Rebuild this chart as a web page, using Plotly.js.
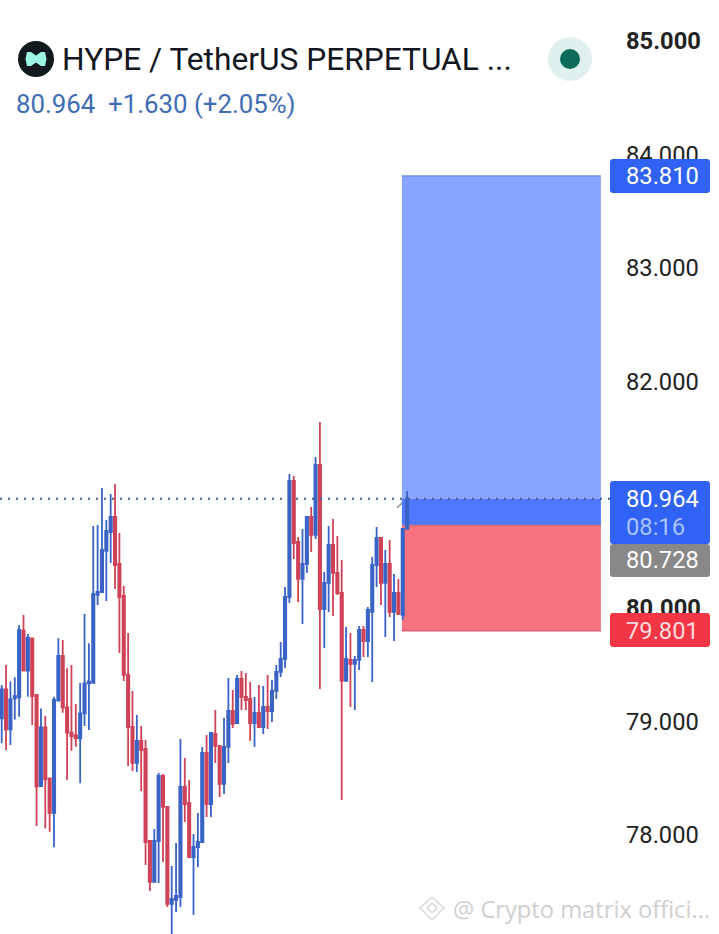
<!DOCTYPE html>
<html>
<head>
<meta charset="utf-8">
<script src="https://cdn.plot.ly/plotly-3.0.1.min.js"></script>
<style>html,body{margin:0;padding:0;background:#fff;overflow:hidden}#chart{width:719px;height:934px}</style>
</head>
<body>
<div id="chart"></div>
<script>
const open = [79.028,79.284,78.931,79.205,79.214,79.802,79.449,79.734,79.234,78.431,
78.949,78.499,78.196,79.184,79.578,79.125,78.902,78.881,78.852,79.072,
79.337,79.340,80.116,80.142,80.504,80.671,80.803,80.389,80.107,79.411,
78.952,78.635,78.829,78.758,77.947,77.586,77.947,78.520,78.247,77.392,
77.427,77.453,78.423,78.282,77.806,77.894,77.938,78.723,78.273,78.890,
78.785,78.450,78.776,79.093,78.987,79.375,79.217,79.199,78.987,79.076,
78.952,79.128,79.093,79.270,79.437,79.552,80.098,81.121,80.583,80.257,
80.389,80.803,80.645,81.262,79.992,80.222,80.557,80.310,80.133,79.358,
79.543,79.508,79.543,79.807,79.710,79.966,80.380,80.618,80.222,80.389,
79.966,80.133,79.940,80.698];
const high = [79.322,79.499,79.352,79.390,79.852,79.940,79.772,79.740,79.234,79.116,
79.049,78.499,79.219,79.734,79.719,79.469,79.499,79.155,79.343,79.949,
79.690,80.724,80.733,81.059,80.777,81.006,81.094,80.662,80.195,79.781,
79.270,79.058,78.961,78.838,77.956,78.053,78.547,78.538,78.247,77.727,
77.929,78.846,78.679,78.485,78.009,78.194,78.776,78.882,78.908,79.102,
78.793,79.031,79.384,79.278,79.411,79.446,79.428,79.349,79.217,79.322,
79.314,79.411,79.366,79.499,79.701,80.186,81.183,81.165,80.627,80.698,
80.803,80.892,81.332,81.641,80.319,80.724,80.786,80.636,80.424,79.834,
79.781,79.578,79.843,79.843,80.010,80.451,80.715,80.618,80.513,80.601,
80.301,80.257,80.706,81.033];
const low = [78.808,78.749,78.793,79.019,79.043,79.449,79.219,78.970,78.079,78.431,
78.058,78.029,77.891,79.184,79.078,78.484,78.743,78.778,78.455,78.961,
78.925,79.340,80.028,80.133,80.063,80.398,80.169,79.605,79.358,78.608,
78.564,78.555,78.388,77.736,77.506,77.586,77.577,77.762,77.365,77.127,
77.321,77.365,78.115,77.806,77.295,77.718,77.938,78.159,78.159,78.635,
78.335,78.361,78.635,78.943,78.987,79.102,79.102,78.829,78.776,78.952,
78.890,78.934,78.996,79.199,79.393,79.472,80.045,80.433,80.054,79.860,
80.310,80.495,80.610,79.287,79.649,79.966,79.931,80.116,78.309,79.358,
79.128,79.102,79.455,79.569,79.569,79.349,80.186,80.028,79.746,79.922,
79.710,79.948,79.895,80.698];
const close = [79.284,78.931,79.196,79.225,79.807,79.449,79.740,79.225,78.426,78.949,
78.490,78.196,79.190,79.578,79.125,78.902,78.872,78.852,79.072,79.337,
79.352,80.125,80.142,80.513,80.680,80.803,80.380,80.098,79.411,78.952,
78.635,78.829,78.749,77.938,77.586,77.947,78.520,78.247,77.392,77.436,
77.462,78.423,78.273,77.806,77.894,77.938,78.723,78.273,78.899,78.785,
78.450,78.776,79.093,78.979,79.375,79.217,79.190,78.987,79.076,78.952,
79.128,79.093,79.270,79.437,79.552,80.098,81.121,80.574,80.257,80.389,
80.803,80.645,81.262,79.992,80.222,80.557,80.310,80.133,79.358,79.552,
79.508,79.543,79.807,79.710,79.984,80.380,80.618,80.222,80.389,79.966,
80.133,79.948,80.698,80.964];
const tickValues = [85,84,83,82,81,80,79,78];
const tickLabels = ['<b>85.000</b>','84.000','83.000','82.000','81.000','<b>80.000</b>','79.000','78.000'];
const targetPrice = 83.810, lastPrice = 80.964, entryPrice = 80.728, stopPrice = 79.801;
const titleText = 'HYPE / TetherUS PERPETUAL ...';
const quoteText = '80.964&#160;&#160;+1.630 (+2.05%)';
const countdownText = '08:16';
const watermarkText = '@ Crypto matrix offici...';

const W = 719, H = 934, PLOTW = 612;
const yMin = 77.127, yMax = 85.361;
const PX = x => x / PLOTW;
const PY = y => 1 - y / H;
const BLUE = '#3a63c6', RED = '#cf4358', FONT = 'Roboto, sans-serif';
const boxStart = 91.8, boxEnd = 137.45;

function roundRect(x0,y0,x1,y1,r){
  const a=(x,y)=>PX(x).toFixed(5)+','+PY(y).toFixed(5);
  return 'M'+a(x0+r,y0)+' L'+a(x1-r,y0)+' Q'+a(x1,y0)+' '+a(x1,y0+r)+' L'+a(x1,y1-r)+' Q'+a(x1,y1)+' '+a(x1-r,y1)+
         ' L'+a(x0+r,y1)+' Q'+a(x0,y1)+' '+a(x0,y1-r)+' L'+a(x0,y0+r)+' Q'+a(x0,y0)+' '+a(x0+r,y0)+' Z';
}
function circle(cx,cy,r,color){
  return {type:'circle',xref:'paper',yref:'paper',x0:PX(cx-r),x1:PX(cx+r),y0:PY(cy+r),y1:PY(cy-r),
          fillcolor:color,line:{width:0},layer:'above'};
}
function polyPx(list,opts){
  const d=list.map((p,i)=>(i?'L':'M')+PX(p[0]).toFixed(5)+','+PY(p[1]).toFixed(5)).join(' ');
  return Object.assign({type:'path',xref:'paper',yref:'paper',path:d,layer:'above',line:{width:0}},opts);
}
function tag(y0,y1,color){
  return {type:'path',xref:'paper',yref:'paper',path:roundRect(610,y0,710,y1,3),fillcolor:color,line:{width:0},layer:'above'};
}

const shapes = [
  {type:'rect',xref:'x',yref:'y',x0:boxStart,x1:boxEnd,y0:lastPrice,y1:targetPrice,fillcolor:'#88a5ff',line:{width:0},layer:'below'},
  {type:'rect',xref:'x',yref:'y',x0:boxStart,x1:boxEnd,y0:entryPrice,y1:lastPrice,fillcolor:'#4d78ff',line:{width:0},layer:'below'},
  {type:'rect',xref:'x',yref:'y',x0:boxStart,x1:boxEnd,y0:stopPrice,y1:entryPrice,fillcolor:'#f8727f',line:{width:0},layer:'below'},
  {type:'line',xref:'x',yref:'y',x0:boxStart,x1:boxEnd,y0:targetPrice,y1:targetPrice,line:{color:'#6f8fdc',width:1.5},layer:'below'},
  {type:'line',xref:'x',yref:'y',x0:boxStart,x1:boxEnd,y0:entryPrice,y1:entryPrice,line:{color:'#d56b78',width:1.5},layer:'below'},
  {type:'line',xref:'x',yref:'y',x0:boxStart,x1:boxEnd,y0:stopPrice,y1:stopPrice,line:{color:'#d8606e',width:1.5},layer:'below'},
  {type:'line',xref:'paper',yref:'y',x0:0,x1:1,y0:lastPrice,y1:lastPrice,line:{color:'#3d6290',width:2,dash:'2px,6px'},layer:'above'},
  {type:'line',xref:'paper',yref:'paper',x0:PX(397),x1:PX(403),y0:PY(508),y1:PY(502),line:{color:'#8a8f98',width:1.5},layer:'below'},
  tag(159,193,'#2f62f5'),
  tag(481,544,'#2f62f5'),
  tag(544,577,'#888888'),
  tag(613,647,'#f23645'),
  circle(36,59,18,'#12191d'),
  polyPx([[27,52],[31,52],[36,55.5],[41,52],[45,52],[46.5,59],[45,66],[41,66],[36,62.5],[31,66],[27,66],[25.5,59],[27,52]],{fillcolor:'#9ff5e4'}),
  circle(570,59,22,'#dff0ee'),
  circle(570,59,10,'#0b6b58'),
  polyPx([[432,897],[444,908],[432,920],[420,908],[432,897]],{fillcolor:'rgba(0,0,0,0)',line:{color:'#d8d8d8',width:1.5}}),
  polyPx([[432,903],[437,908],[432,913],[427,908],[432,903]],{fillcolor:'rgba(0,0,0,0)',line:{color:'#d8d8d8',width:1.5}})
];

function label(xPx,yPx,text,size,color,extra){
  return Object.assign({xref:'paper',yref:'paper',x:PX(xPx),y:PY(yPx),xanchor:'left',yanchor:'middle',
    text:text,showarrow:false,borderpad:0,font:{family:FONT,size:size,color:color}},extra||{});
}
function priceLabel(price,shift,text,color){
  return {xref:'paper',yref:'y',x:PX(624.5),y:price,yshift:shift,xanchor:'left',yanchor:'middle',text:text,
    showarrow:false,borderpad:0,font:{family:FONT,size:23.7,color:color}};
}
const annotations = [
  label(61,59,titleText,31.7,'#131722'),
  label(14.5,104,quoteText,25.8,'#3f6db5'),
  priceLabel(targetPrice,0,targetPrice.toFixed(3),'#ffffff'),
  priceLabel(lastPrice,0,lastPrice.toFixed(3),'#ffffff'),
  priceLabel(lastPrice,-28,countdownText,'#a9c1ff'),
  priceLabel(entryPrice,-34,entryPrice.toFixed(3),'#ffffff'),
  priceLabel(stopPrice,0,stopPrice.toFixed(3),'#ffd9dd'),
  label(452,909,watermarkText,24,'#d2d2d2',{font:{family:'"Open Sans", sans-serif',size:23.7,color:'#cfcfcf'}})
];

const trace = {
  type:'candlestick',
  x:open.map((_,i)=>i),
  open:open, high:high, low:low, close:close,
  whiskerwidth:0,
  increasing:{line:{color:BLUE,width:1.8},fillcolor:BLUE},
  decreasing:{line:{color:RED,width:1.8},fillcolor:RED},
  hoverinfo:'skip',
  showlegend:false
};

Plotly.newPlot('chart',[trace],{
  width:W,height:H,
  margin:{l:0,r:W-PLOTW,t:0,b:0,pad:0},
  paper_bgcolor:'#ffffff',plot_bgcolor:'#ffffff',
  boxgap:0.25,
  showlegend:false,
  xaxis:{range:[-0.39,140],visible:false,rangeslider:{visible:false},fixedrange:true},
  yaxis:{range:[yMin,yMax],side:'right',tickmode:'array',tickvals:tickValues,ticktext:tickLabels,
    showgrid:false,zeroline:false,showline:false,ticks:'',ticklabelstandoff:13,automargin:false,fixedrange:true,
    tickfont:{family:FONT,size:23.7,color:'#222222'}},
  shapes:shapes,
  annotations:annotations
},{displayModeBar:false,staticPlot:true});
</script>
</body>
</html>
